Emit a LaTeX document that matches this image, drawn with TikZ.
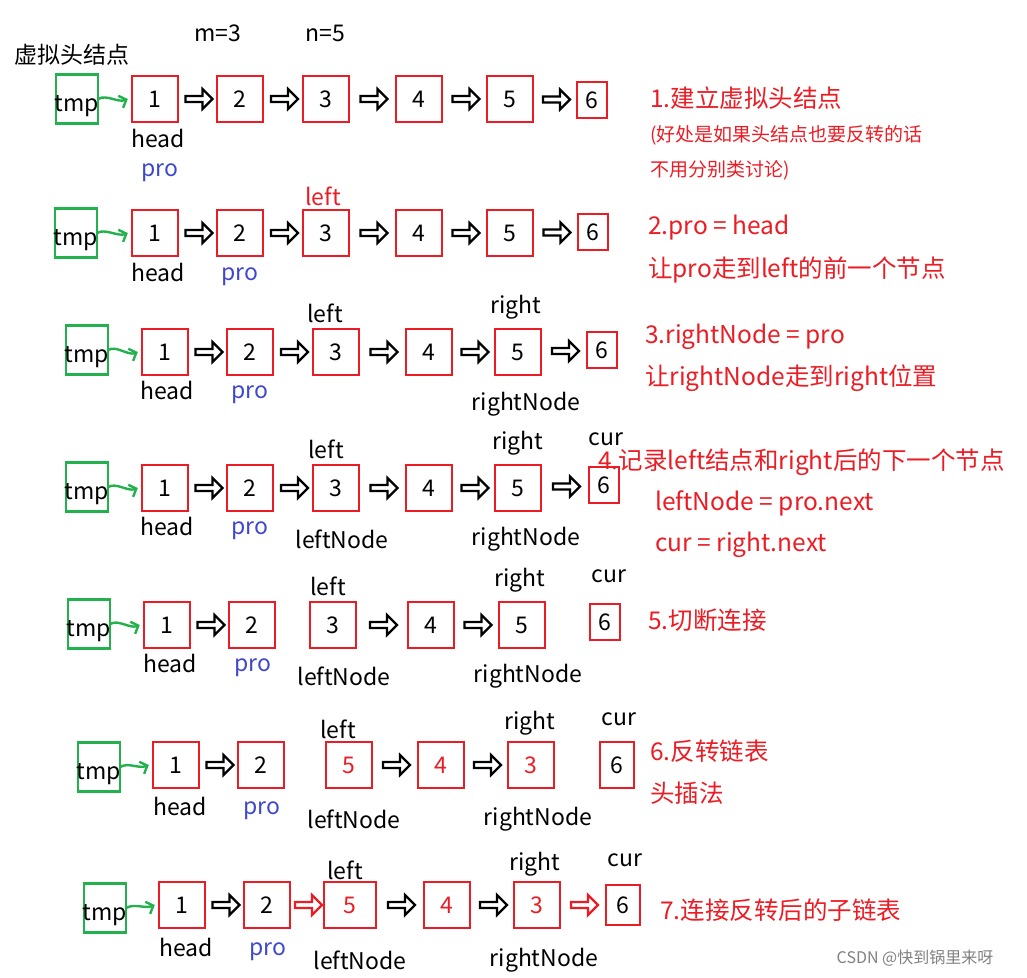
\documentclass[tikz,border=0pt]{standalone}
\usepackage{fontspec}
\setmainfont{Noto Sans CJK SC}
\usetikzlibrary{shapes.arrows,arrows.meta}
\definecolor{rd}{HTML}{EC1C24}
\definecolor{gr}{HTML}{22B14C}
\definecolor{bl}{HTML}{3F48CC}
\tikzset{
 rbox/.style={draw=rd,line width=2.4pt,minimum width=46pt,minimum height=46pt,inner sep=0pt,font=\fontsize{23}{25}\selectfont},
 sbox/.style={rbox,minimum width=30pt,minimum height=36pt},
 tbox/.style={draw=gr,line width=2.4pt,minimum width=42pt,minimum height=49pt,inner sep=0pt},
 lab/.style={inner sep=0pt,font=\fontsize{23}{25}\selectfont},
 note/.style={inner sep=0pt,text=rd,anchor=west,font=\fontsize{24.5}{26}\selectfont},
 small/.style={inner sep=0pt,text=rd,anchor=west,font=\fontsize{19}{21}\selectfont},
 harrow/.style={single arrow,draw,line width=2.2pt,fill=white,minimum height=27pt,minimum width=20pt,single arrow head extend=2.5pt,inner sep=0pt,anchor=center},
 garrow/.style={draw=gr,line width=2.4pt,-{Straight Barb[length=6pt,width=13pt]}}
}
\newcommand\hA[3][black]{\path (#2.east) -- (#3.west) node[midway,harrow,draw=#1]{};}
\newcommand\gA[2]{\draw[garrow] ([xshift=-1pt]#1.east) .. controls +(8,-5) and +(-10,4) .. ([xshift=-3pt]#2.west);}
\begin{document}
\begin{tikzpicture}[x=1pt,y=-1pt]
\useasboundingbox (0,0) rectangle (1027,977);
% header
\node[lab] (vh) at (72,55) {虚拟头结点};
\node[lab] (m) at (218,33) {m=3};
\node[lab] (nn) at (325,33) {n=5};
% row 1
\node[tbox] (at) at (77,99) {}; \node[lab] (atx) at (77,106) {tmp};
\foreach \n/\x/\t in {1/155/1,2/240/2,3/326/3,4/419/4,5/510/5} \node[rbox] (a\n) at (\x,99) {\t};
\node[sbox] (a6) at (592,100) {6};
\gA{at}{a1}\hA{a1}{a2}\hA{a2}{a3}\hA{a3}{a4}\hA{a4}{a5}\hA{a5}{a6}
\node[lab] (ah) at (158,138) {head};
\node[lab,text=bl] (ap) at (160,173) {pro};
\node[note] (an1) at (650,98) {1.建立虚拟头结点};
\node[small] (an2) at (650,135) {(好处是如果头结点也要反转的话};
\node[small] (an3) at (650,170) {不用分别类讨论)};
% row 2
\node[tbox] (bt) at (76,233) {}; \node[lab] (btx) at (76,240) {tmp};
\foreach \n/\x/\t in {1/155/1,2/240/2,3/326/3,4/419/4,5/510/5} \node[rbox] (b\n) at (\x,233) {\t};
\node[sbox] (b6) at (593,232) {6};
\gA{bt}{b1}\hA{b1}{b2}\hA{b2}{b3}\hA{b3}{b4}\hA{b4}{b5}\hA{b5}{b6}
\node[lab,text=rd] (bl) at (323,196) {left};
\node[lab] (bh) at (158,272) {head};
\node[lab,text=bl] (bp) at (240,277) {pro};
\node[note] (bn1) at (648,228) {2.pro = head};
\node[note] (bn2) at (648,270) {让pro走到left的前一个节点};
% row 3
\node[tbox] (ct) at (87,350) {}; \node[lab] (ctx) at (87,357) {tmp};
\foreach \n/\x/\t in {1/165/1,2/250/2,3/336/3,4/429/4,5/518/5} \node[rbox] (c\n) at (\x,352) {\t};
\node[sbox] (c6) at (602,350) {6};
\gA{ct}{c1}\hA{c1}{c2}\hA{c2}{c3}\hA{c3}{c4}\hA{c4}{c5}\hA{c5}{c6}
\node[lab] (cl) at (325,313) {left};
\node[lab] (cr) at (516,307) {right};
\node[lab] (ch) at (167,390) {head};
\node[lab,text=bl] (cp) at (250,395) {pro};
\node[lab] (crn) at (526,404) {rightNode};
\node[note] (cn1) at (645,337) {3.rightNode = pro};
\node[note] (cn2) at (645,378) {让rightNode走到right位置};
% row 4
\node[tbox] (dt) at (87,487) {}; \node[lab] (dtx) at (87,494) {tmp};
\foreach \n/\x/\t in {1/165/1,2/250/2,3/336/3,4/429/4,5/518/5} \node[rbox] (d\n) at (\x,488) {\t};
\node[sbox] (d6) at (604,485) {6};
\gA{dt}{d1}\hA{d1}{d2}\hA{d2}{d3}\hA{d3}{d4}\hA{d4}{d5}\hA{d5}{d6}
\node[lab] (dl) at (326,449) {left};
\node[lab] (dr) at (518,443) {right};
\node[lab] (dc) at (606,439) {cur};
\node[lab] (dh) at (167,526) {head};
\node[lab,text=bl] (dp) at (250,531) {pro};
\node[lab] (dln) at (342,539) {leftNode};
\node[lab] (drn) at (526,539) {rightNode};
\node[note] (dn1) at (598,462) {4.记录left结点和right后的下一个节点};
\node[note] (dn2) at (655,503) {leftNode = pro.next};
\node[note] (dn3) at (655,545) {cur = right.next};
% row 5
\node[tbox] (et) at (89,624) {}; \node[lab] (etx) at (89,631) {tmp};
\foreach \n/\x/\t in {1/167/1,2/252/2,3/333/3,4/431/4,5/522/5} \node[rbox] (e\n) at (\x,625) {\t};
\node[sbox] (e6) at (605,622) {6};
\gA{et}{e1}\hA{e1}{e2}\hA{e3}{e4}\hA{e4}{e5}
\node[lab] (el) at (328,586) {left};
\node[lab] (er) at (520,580) {right};
\node[lab] (ec) at (609,576) {cur};
\node[lab] (eh) at (170,663) {head};
\node[lab,text=bl] (ep) at (253,668) {pro};
\node[lab] (eln) at (344,676) {leftNode};
\node[lab] (ern) at (528,676) {rightNode};
\node[note] (en1) at (648,620) {5.切断连接};
% row 6
\node[tbox] (ft) at (99,767) {}; \node[lab] (ftx) at (99,774) {tmp};
\foreach \n/\x/\t in {1/176/1,2/261/2} \node[rbox] (f\n) at (\x,765) {\t};
\foreach \n/\x/\t in {5/349/5,4/441/4,3/531/3} \node[rbox,text=rd] (f\n) at (\x,765) {\t};
\node[rbox,minimum width=34pt] (f6) at (617,765) {6};
\gA{ft}{f1}\hA{f1}{f2}\hA{f5}{f4}\hA{f4}{f3}
\node[lab] (fl) at (338,729) {left};
\node[lab] (fr) at (530,723) {right};
\node[lab] (fc) at (619,719) {cur};
\node[lab] (fh) at (180,806) {head};
\node[lab,text=bl] (fp) at (262,811) {pro};
\node[lab] (fln) at (354,819) {leftNode};
\node[lab] (frn) at (538,819) {rightNode};
\node[note] (fn1) at (650,751) {6.反转链表};
\node[note] (fn2) at (650,793) {头插法};
% row 7
\node[tbox] (gt) at (105,908) {}; \node[lab] (gtx) at (105,915) {tmp};
\foreach \n/\x/\t in {1/182/1,2/267/2} \node[rbox] (g\n) at (\x,905) {\t};
\node[rbox,text=rd,minimum width=52pt] (g5) at (350,905) {5};
\node[rbox,text=rd] (g4) at (447,905) {4};
\node[rbox,text=rd] (g3) at (537,905) {3};
\node[rbox,minimum width=34pt,minimum height=40pt] (g6) at (623,905) {6};
\gA{gt}{g1}\hA{g1}{g2}\hA[rd]{g2}{g5}\hA{g5}{g4}\hA{g4}{g3}\hA[rd]{g3}{g6}
\node[lab] (gl) at (345,870) {left};
\node[lab] (gr) at (535,864) {right};
\node[lab] (gc) at (625,860) {cur};
\node[lab] (gh) at (186,947) {head};
\node[lab,text=bl] (gp) at (268,952) {pro};
\node[lab] (gln) at (360,960) {leftNode};
\node[lab] (grn) at (544,960) {rightNode};
\node[note] (gn1) at (660,910) {7.连接反转后的子链表};
\node[inner sep=0pt,text=gray,font=\fontsize{16}{18}\selectfont] (csdn) at (915,958) {CSDN @快到锅里来呀};
\end{tikzpicture}
\end{document}
